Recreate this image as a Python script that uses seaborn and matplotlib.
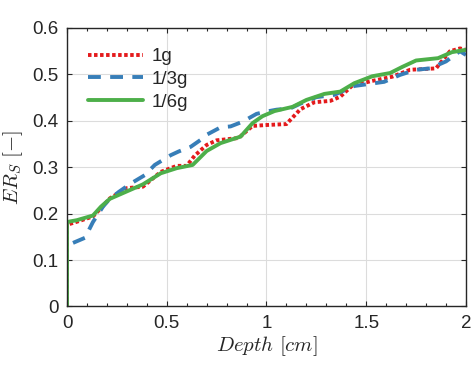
import numpy as np
import pandas as pd
import seaborn as sns
import matplotlib
matplotlib.use("Agg")
import matplotlib.pyplot as plt
from matplotlib.ticker import MultipleLocator

# -----------------------------
# data
# -----------------------------
labels = ["1g", "1/3g", "1/6g"]

x_1g = [0, 0, 0.06, 0.13, 0.17, 0.215, 0.30, 0.38, 0.47, 0.55, 0.60, 0.64, 0.70, 0.75,
        0.86, 0.93, 1.0, 1.10, 1.17, 1.24, 1.32, 1.37, 1.43, 1.53, 1.63, 1.72, 1.85,
        1.92, 1.97, 2.0]
y_1g = [0, 0.176, 0.184, 0.194, 0.212, 0.233, 0.255, 0.258, 0.29, 0.303, 0.303, 0.325,
        0.348, 0.358, 0.363, 0.389, 0.391, 0.393, 0.425, 0.44, 0.443, 0.452, 0.476,
        0.486, 0.495, 0.51, 0.513, 0.55, 0.556, 0.553]

x_13g = [0.03, 0.09, 0.13, 0.18, 0.21, 0.26, 0.32, 0.39, 0.44, 0.52, 0.56, 0.62, 0.67,
         0.70, 0.77, 0.82, 0.88, 0.95, 1.0, 1.05, 1.12, 1.17, 1.25, 1.34, 1.44, 1.54,
         1.59, 1.67, 1.75, 1.82, 1.90, 1.97, 2.0]
y_13g = [0.137, 0.148, 0.182, 0.215, 0.23, 0.247, 0.265, 0.283, 0.305, 0.326, 0.334,
         0.344, 0.359, 0.37, 0.386, 0.388, 0.398, 0.415, 0.42, 0.424, 0.427, 0.437,
         0.451, 0.456, 0.475, 0.481, 0.484, 0.499, 0.51, 0.513, 0.528, 0.55, 0.542]

x_16g = [0, 0, 0.05, 0.13, 0.17, 0.215, 0.30, 0.38, 0.47, 0.55, 0.63, 0.70, 0.77, 0.87,
         0.93, 0.98, 1.04, 1.13, 1.20, 1.29, 1.37, 1.44, 1.53, 1.62, 1.68, 1.75, 1.86,
         1.93, 2.0]
y_16g = [0, 0.182, 0.186, 0.196, 0.215, 0.232, 0.248, 0.263, 0.287, 0.298, 0.305, 0.335,
         0.352, 0.366, 0.395, 0.41, 0.421, 0.43, 0.445, 0.458, 0.463, 0.481, 0.496,
         0.503, 0.516, 0.530, 0.535, 0.548, 0.553]

xticks = [0, 0.5, 1, 1.5, 2]
xticklabels = ["0", "0.5", "1", "1.5", "2"]
yticks = [0, 0.1, 0.2, 0.3, 0.4, 0.5, 0.6]
yticklabels = ["0", "0.1", "0.2", "0.3", "0.4", "0.5", "0.6"]

# -----------------------------
# style
# -----------------------------
sns.set_theme(style="ticks")
plt.rcParams["font.family"] = ["Liberation Sans", "DejaVu Sans"]
plt.rcParams["mathtext.fontset"] = "cm"

pal = sns.color_palette("Set1")
colors = [pal[0], pal[1], pal[2]]
styles = [(0, (0.9, 0.65)), (0, (3.3, 2.4)), "-"]

fig = plt.figure(figsize=(4.74, 3.66), dpi=100)
ax = fig.add_axes([0.1414, 0.1626, 0.8416, 0.7609])

series = [(x_1g, y_1g), (x_13g, y_13g), (x_16g, y_16g)]
for (xs, ys), lab, c, ls in zip(series, labels, colors, styles):
    df = pd.DataFrame({"depth": xs, "er": ys})
    sns.lineplot(data=df, x="depth", y="er", ax=ax, color=c, linestyle=ls,
                 linewidth=2.8, estimator=None, sort=False, label=lab)

ax.set_xlim(0, 2)
ax.set_ylim(0, 0.6)
ax.set_xticks(xticks)
ax.set_xticklabels(xticklabels)
ax.set_yticks(yticks)
ax.set_yticklabels(yticklabels)
ax.xaxis.set_minor_locator(MultipleLocator(0.1))

ax.grid(True, which="major", color="#dcdcdc", linewidth=0.8)
ax.set_axisbelow(True)

ax.tick_params(which="both", direction="in", top=True, right=True,
               colors="#262626", labelsize=13.5, pad=6)
ax.tick_params(which="major", length=3.5, width=0.8)
ax.tick_params(which="minor", length=2.5, width=0.8)
for s in ax.spines.values():
    s.set_color("#262626")
    s.set_linewidth(1.0)

ax.set_xlabel(r"$Depth\ [cm]$", fontsize=15, labelpad=2)
ax.set_ylabel(r"$ER_S\ [-]$", fontsize=15, labelpad=5)

ax.legend(loc="upper left", bbox_to_anchor=(0.02, 0.975), frameon=False,
          fontsize=13.5, handlelength=2.9, handletextpad=0.5, labelspacing=0.3,
          borderaxespad=0.3)

fig.savefig("out.png", dpi=100)
